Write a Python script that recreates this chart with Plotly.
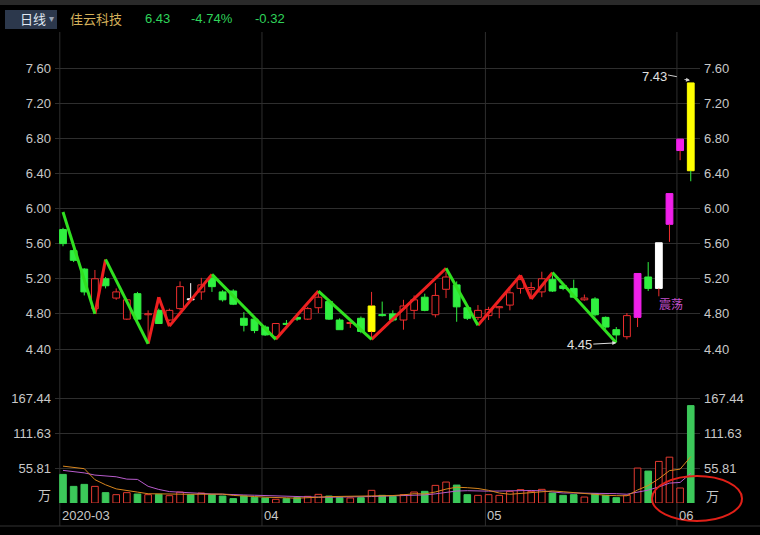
import plotly.graph_objects as go

# ---------------- data ----------------
stock_name = "佳云科技"
last_price = "6.43"
pct_change = "-4.74%"
abs_change = "-0.32"
period_label = "日线"

month_labels = ["2020-03", "04", "05", "06"]
month_start_idx = [0, 19, 40, 58]

open_ = [5.76, 5.52, 5.31, 4.86, 5.20, 4.98, 4.74, 5.03, 4.79, 4.84,
         4.73, 4.86, 4.96, 5.05, 5.21, 5.05, 5.06, 4.75, 4.74, 4.65,
         4.54, 4.69, 4.76, 4.74, 4.87, 4.94, 4.73, 4.69, 4.75, 4.60,
         4.79, 4.80, 4.73, 4.84, 4.99, 4.79, 5.08, 5.13, 4.87, 4.76,
         4.78, 4.87, 4.90, 5.09, 5.08, 5.05, 5.19, 5.12, 5.09, 4.96,
         4.97, 4.76, 4.62, 4.54, 4.76, 5.22, 5.09, 5.82, 6.66, 7.43]
high = [5.78, 5.54, 5.32, 5.30, 5.22, 5.09, 4.97, 5.05, 4.84, 4.86,
        4.86, 5.17, 5.15, 5.21, 5.24, 5.07, 5.08, 4.82, 4.75, 4.67,
        4.69, 4.73, 4.77, 4.88, 5.05, 4.96, 4.75, 4.72, 4.77, 5.05,
        4.94, 4.84, 4.96, 5.01, 5.03, 5.15, 5.28, 5.17, 4.90, 4.90,
        4.88, 4.89, 5.09, 5.24, 5.16, 5.28, 5.24, 5.13, 5.19, 5.02,
        4.99, 4.77, 4.65, 4.81, 5.26, 5.39, 5.61, 6.17, 6.79, 7.43]
low = [5.57, 5.39, 5.01, 4.80, 5.09, 4.96, 4.73, 4.72, 4.50, 4.69,
       4.72, 4.84, 4.96, 4.96, 5.05, 4.94, 4.90, 4.60, 4.58, 4.55,
       4.51, 4.65, 4.72, 4.73, 4.81, 4.73, 4.62, 4.64, 4.58, 4.51,
       4.77, 4.71, 4.62, 4.74, 4.83, 4.76, 4.98, 4.71, 4.73, 4.73,
       4.73, 4.75, 4.84, 5.03, 4.97, 4.99, 5.05, 5.07, 4.98, 4.95,
       4.77, 4.63, 4.48, 4.51, 4.65, 5.06, 5.00, 5.62, 6.55, 6.31]
close = [5.60, 5.41, 5.05, 5.20, 5.12, 5.05, 4.96, 4.74, 4.80, 4.69,
         4.84, 5.11, 4.96, 5.13, 5.11, 4.96, 4.91, 4.67, 4.61, 4.56,
         4.69, 4.68, 4.74, 4.86, 4.99, 4.74, 4.62, 4.70, 4.60, 4.89,
         4.78, 4.73, 4.89, 4.96, 4.84, 5.01, 5.22, 4.88, 4.75, 4.84,
         4.85, 4.88, 5.04, 5.19, 5.10, 5.20, 5.06, 5.09, 4.99, 4.98,
         4.79, 4.65, 4.56, 4.78, 5.26, 5.09, 5.61, 6.17, 6.79, 6.43]

volume = [45.6, 26.5, 29.7, 26.5, 16.5, 13.3, 16.5, 14.3, 13.3, 13.8,
          11.7, 17.5, 13.3, 15.9, 13.3, 11.1, 7.0, 11.1, 9.1, 8.0,
          5.9, 7.0, 8.5, 10.6, 13.8, 11.1, 8.5, 8.0, 8.5, 20.2,
          12.2, 10.6, 13.3, 17.5, 18.6, 28.1, 33.4, 28.6, 13.3, 12.2,
          13.3, 12.2, 18.6, 21.3, 18.6, 21.8, 15.9, 12.2, 13.3, 9.5,
          14.9, 12.2, 8.5, 12.2, 55.7, 50.9, 66.3, 73.1, 23.9, 155.3]
vol_ma5 = [58.8, 57.0, 54.7, 37.2, 29.0, 22.5, 20.5, 17.4, 14.8, 14.2,
           13.9, 14.1, 13.9, 14.4, 14.3, 14.2, 12.1, 11.7, 10.3, 9.3,
           8.2, 8.2, 7.7, 8.0, 9.2, 10.2, 10.5, 10.4, 10.0, 11.3,
           11.5, 11.9, 13.0, 14.8, 14.4, 17.6, 22.2, 25.2, 24.4, 23.1,
           20.2, 15.9, 13.9, 15.5, 16.8, 18.5, 19.2, 18.0, 16.4, 14.5,
           13.2, 12.4, 11.7, 11.5, 20.7, 27.9, 38.7, 51.6, 54.0, 73.9]
vol_ma10 = [52.0, 50.0, 48.0, 44.5, 42.9, 41.8, 38.1, 37.6, 26.6, 21.6,
            18.2, 17.3, 15.7, 14.6, 14.3, 14.1, 13.1, 12.8, 12.4, 11.8,
            11.2, 10.2, 9.7, 9.2, 9.3, 9.2, 9.4, 9.1, 9.0, 10.3,
            10.9, 11.2, 11.7, 12.4, 12.9, 14.6, 17.1, 19.1, 19.6, 18.8,
            18.9, 19.1, 19.6, 20.0, 20.0, 19.4, 17.6, 16.0, 16.0, 15.7,
            15.9, 15.8, 14.9, 14.0, 17.6, 20.6, 25.6, 31.7, 32.8, 47.3]

zig_idx = [0, 3, 4, 8, 9, 10, 14, 20, 24, 29, 36, 39, 43, 44, 46, 52]
zig_val = [5.96, 4.80, 5.42, 4.46, 4.99, 4.66, 5.25, 4.51, 5.06, 4.51,
           5.32, 4.67, 5.24, 4.97, 5.27, 4.47]
zig_seg_up = [False, True, False, True, True, True, False, True, False,
              True, False, True, True, True, False]

price_ticks = [4.40, 4.80, 5.20, 5.60, 6.00, 6.40, 6.80, 7.20, 7.60]
vol_ticks = [55.81, 111.63, 167.44]
vol_unit = "万"

high_label = "7.43"
high_label_idx = 59
low_label = "4.45"
low_label_idx = 52
signal_text = "震荡"
signal_idx = 57

# special candle colours (signals)
highlight = {12: "#ffffff", 29: "#ffff00", 54: "#f020ea", 56: "#ffffff",
             57: "#f020ea", 58: "#f020ea", 59: "#ffff00"}
wick_override = {12: "#ffffff"}

# ---------------- style ----------------
W, H = 760, 535
ML, MR = 55, 60
PX_L, PX_R = ML, W - MR
BG = "#000000"
GRID = "#2e2e2e"
TXT = "#c8c8c8"
RED = "#ee2e2e"
GREEN = "#30f040"
VRED = "#e23a30"
VGREEN = "#3cc85a"
ZRED = "#ee2020"
ZGREEN = "#30e020"
FONT = "Liberation Sans, Arial, sans-serif"
CJK = "Noto Sans CJK SC, sans-serif"

N = len(close)
xs = list(range(N))
step_px = 10.64
first_px = 63.0
x_lo = -(first_px - PX_L) / step_px
x_hi = (N - 1) + (PX_R - (first_px + (N - 1) * step_px)) / step_px

# price panel geometry (pixels)
P_TOP, P_BOT = 32, 365
px_per_unit = (349 - 68) / (7.60 - 4.40)
p_lo = 4.40 - (P_BOT - 349) / px_per_unit
p_hi = 7.60 + (68 - P_TOP) / px_per_unit
# volume panel geometry
V_TOP, V_BOT = 380, 503
vol_per_px = 167.44 / (503 - 398)
v_hi = (V_BOT - V_TOP) * vol_per_px


def py(p):
    return 1 - p / H


def pxx(p):
    return (p - PX_L) / (PX_R - PX_L)


fig = go.Figure()

# ---- candle wicks ----
wick_groups = {}
body_fill, body_line = [], []
for i in xs:
    up = close[i] > open_[i]
    col = RED if up else GREEN
    fill = BG if up else GREEN
    line = col
    wick = col
    if i in highlight:
        fill = line = highlight[i]
    if i in wick_override:
        wick = wick_override[i]
    body_fill.append(fill)
    body_line.append(line)
    top = max(open_[i], close[i])
    bot = min(open_[i], close[i])
    g = wick_groups.setdefault(wick, ([], []))
    g[0].extend([i, i, None, i, i, None])
    g[1].extend([high[i], top, None, bot, low[i], None])

for col, (wx, wy) in wick_groups.items():
    fig.add_trace(go.Scatter(x=wx, y=wy, mode="lines", line=dict(color=col, width=1),
                             hoverinfo="skip", showlegend=False, xaxis="x", yaxis="y"))

bases = [min(o, c) for o, c in zip(open_, close)]
heights = [max(abs(c - o), 0.012) for o, c in zip(open_, close)]
fig.add_trace(go.Bar(x=xs, y=heights, base=bases, width=0.64,
                     marker=dict(color=body_fill, line=dict(color=body_line, width=1)),
                     showlegend=False, xaxis="x", yaxis="y"))

# ---- zigzag ----
for col, flag in ((ZRED, True), (ZGREEN, False)):
    zx, zy = [], []
    for k, up in enumerate(zig_seg_up):
        if up == flag:
            zx += [zig_idx[k], zig_idx[k + 1], None]
            zy += [zig_val[k], zig_val[k + 1], None]
    fig.add_trace(go.Scatter(x=zx, y=zy, mode="lines", line=dict(color=col, width=3),
                             hoverinfo="skip", showlegend=False, xaxis="x", yaxis="y"))

# ---- volume ----
v_up = [c > o for o, c in zip(open_, close)]
fig.add_trace(go.Bar(x=xs, y=volume, width=0.62,
                     marker=dict(color=[BG if u else VGREEN for u in v_up],
                                 line=dict(color=[VRED if u else VGREEN for u in v_up], width=1)),
                     showlegend=False, xaxis="x", yaxis="y2"))
fig.add_trace(go.Scatter(x=xs, y=vol_ma10, mode="lines", line=dict(color="#b85ccc", width=1),
                         hoverinfo="skip", showlegend=False, xaxis="x", yaxis="y2"))
fig.add_trace(go.Scatter(x=xs, y=vol_ma5, mode="lines", line=dict(color="#d8861e", width=1),
                         hoverinfo="skip", showlegend=False, xaxis="x", yaxis="y2"))

# dummy traces for right-side axes
fig.add_trace(go.Scatter(x=[None], y=[None], xaxis="x", yaxis="y3", showlegend=False))
fig.add_trace(go.Scatter(x=[None], y=[None], xaxis="x", yaxis="y4", showlegend=False))

ptxt = [f"{t:.2f}" for t in price_ticks]
vtxt = [f"{t:.2f}" for t in vol_ticks]
tickfont = dict(family=FONT, size=13, color=TXT)

fig.update_layout(
    width=W, height=H,
    margin=dict(l=ML, r=MR, t=0, b=0),
    paper_bgcolor=BG, plot_bgcolor=BG,
    bargap=0, barmode="overlay",
    xaxis=dict(range=[x_lo, x_hi], showgrid=False, zeroline=False, showticklabels=False,
               showline=False, anchor="y2", fixedrange=True),
    yaxis=dict(domain=[py(P_BOT), py(P_TOP)], range=[p_lo, p_hi], tickvals=price_ticks,
               ticktext=ptxt, showgrid=True, gridcolor=GRID, gridwidth=1, zeroline=False,
               tickfont=tickfont, ticks="", ticklabelstandoff=3, automargin=False),
    yaxis3=dict(overlaying="y", side="right", range=[p_lo, p_hi], tickvals=price_ticks,
                ticktext=ptxt, showgrid=False, zeroline=False, tickfont=tickfont,
                ticks="", ticklabelstandoff=3, automargin=False),
    yaxis2=dict(domain=[py(V_BOT), py(V_TOP)], range=[0, v_hi], tickvals=[0] + vol_ticks,
                ticktext=[""] + vtxt, showgrid=True, gridcolor=GRID, gridwidth=1,
                zeroline=False, tickfont=tickfont, ticks="", ticklabelstandoff=3,
                automargin=False),
    yaxis4=dict(overlaying="y2", side="right", range=[0, v_hi], tickvals=vol_ticks,
                ticktext=vtxt, showgrid=False, zeroline=False, tickfont=tickfont,
                ticks="", ticklabelstandoff=3, automargin=False),
)

shapes = []
# top strip
shapes.append(dict(type="rect", xref="paper", yref="paper", x0=pxx(0), x1=pxx(W),
                   y0=py(5), y1=py(0), fillcolor="#2a2a2a", line=dict(width=0), layer="below"))
# vertical month lines
for m in month_start_idx:
    shapes.append(dict(type="line", xref="x", yref="paper", x0=m - 0.3, x1=m - 0.3,
                       y0=py(526), y1=py(P_TOP), line=dict(color=GRID, width=1), layer="below"))
# bottom line
shapes.append(dict(type="line", xref="paper", yref="paper", x0=pxx(0), x1=pxx(W),
                   y0=py(526), y1=py(526), line=dict(color="#333333", width=1)))
# button
shapes.append(dict(type="rect", xref="paper", yref="paper", x0=pxx(5), x1=pxx(57),
                   y0=py(29), y1=py(10), fillcolor="#2c384c", line=dict(width=0)))
# dashed leader for the high label
shapes.append(dict(type="line", xref="paper", yref="paper", x0=pxx(668), x1=pxx(684),
                   y0=py(75), y1=py(78), line=dict(color="#d0d0d0", width=1, dash="dash")))
# red ellipse
shapes.append(dict(type="circle", xref="paper", yref="paper", x0=pxx(652), x1=pxx(742),
                   y0=py(521), y1=py(476), line=dict(color="#e02018", width=2)))
fig.update_layout(shapes=shapes)

ann = []


def txt(x, y, s, color, size=13, anchor="center", family=FONT):
    ann.append(dict(xref="paper", yref="paper", x=pxx(x), y=py(y), text=s, showarrow=False,
                    xanchor=anchor, yanchor="middle", font=dict(family=family, size=size, color=color)))


# header
txt(33, 19, period_label, "#dfe6f0", 13, family=CJK)
txt(51, 19, "▾", "#9aa4b4", 10)
txt(96, 19, stock_name, "#d4b05a", 13, family=CJK)
txt(157, 19, last_price, "#2fd35a", 13)
txt(212, 19, pct_change, "#2fd35a", 13)
txt(270, 19, abs_change, "#2fd35a", 13)
# unit labels
txt(53, 494, vol_unit, TXT, 13, anchor="right", family=CJK)
txt(704, 495, vol_unit, TXT, 13, anchor="left", family=CJK)
txt(654, 76, high_label, "#e0e0e0", 13)

# month labels
for m, lab in zip(month_start_idx, month_labels):
    ann.append(dict(xref="x", yref="paper", x=m - 0.3, y=py(515), text=lab, showarrow=False,
                    xanchor="left", yanchor="middle", font=dict(family=FONT, size=13, color=TXT)))

# high marker arrowhead (short arrow at the end of the dashed leader)
ann.append(dict(xref="x", yref="y", x=high_label_idx - 0.07, y=high[high_label_idx] + 0.03,
                text="", showarrow=True, ax=-7, ay=-1, arrowhead=2, arrowsize=0.8,
                arrowwidth=1, arrowcolor="#d0d0d0"))
ann.append(dict(xref="x", yref="y", x=low_label_idx, y=zig_val[-1],
                text=low_label, showarrow=True, ax=-37, ay=2, arrowhead=2, arrowsize=0.8,
                arrowwidth=1, arrowcolor="#e0e0e0", font=dict(family=FONT, size=13, color="#e0e0e0")))
# signal text
ann.append(dict(xref="x", yref="y", x=signal_idx + 0.1, y=4.92, text=signal_text, showarrow=False,
                font=dict(family=CJK, size=12, color="#c450cc")))

fig.update_layout(annotations=ann)

fig.write_html(
    "out.html",
    config={"displayModeBar": False, "staticPlot": True},
    post_script="document.body.style.margin='0';document.body.style.padding='0';"
                "document.body.style.overflow='hidden';document.body.style.background='#000';",
)
